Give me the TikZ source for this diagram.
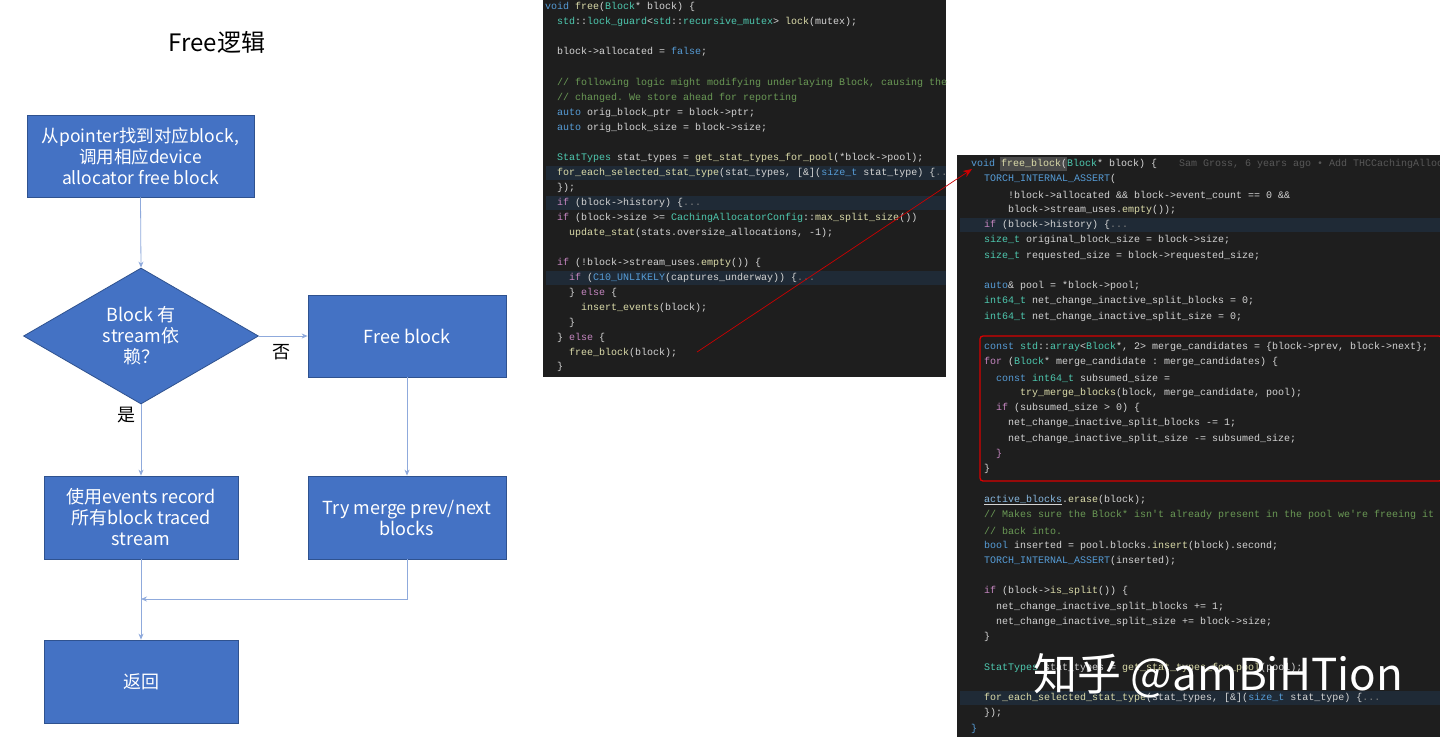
\documentclass[tikz,border=0pt]{standalone}
\usepackage{fontspec}
\setmainfont{Noto Sans CJK SC}
\setmonofont{Liberation Mono}
\usetikzlibrary{shapes.geometric,arrows.meta}
\definecolor{fbl}{HTML}{4472C4}
\definecolor{fbd}{HTML}{2F528F}
\definecolor{conn}{HTML}{8FAADC}
\definecolor{codebg}{HTML}{1E1E1E}
\definecolor{hlbg}{HTML}{1F2A36}
\definecolor{cdef}{HTML}{D4D4D4}
\definecolor{ckw}{HTML}{569CD6}
\definecolor{cty}{HTML}{4EC9B0}
\definecolor{cfn}{HTML}{DCDCAA}
\definecolor{ccm}{HTML}{6A9955}
\definecolor{cpk}{HTML}{C586C0}
\newcommand{\K}[1]{\textcolor{ckw}{#1}}
\newcommand{\Ty}[1]{\textcolor{cty}{#1}}
\newcommand{\Fn}[1]{\textcolor{cfn}{#1}}
\newcommand{\Cm}[1]{\textcolor{ccm}{#1}}
\newcommand{\Pk}[1]{\textcolor{cpk}{#1}}
\newcommand{\cl}[4]{\node[codeline] (#1) at (#2,#3) {#4};}
\begin{document}
\begin{tikzpicture}[x=1pt,y=-1pt,
  flow/.style={draw=fbd,fill=fbl,text=white,font=\fontsize{18}{21}\selectfont,align=center,inner sep=2pt,line width=0.8pt},
  conn/.style={draw=conn,line width=0.8pt,-{Stealth[length=6pt,width=5pt]}},
  codeline/.style={anchor=west,inner sep=0pt,text=cdef,font=\ttfamily\fontsize{10}{12}\selectfont}]
\useasboundingbox (0,0) rectangle (1440,737);
\fill[white] (0,0) rectangle (1440,737);
% flowchart
\node[font=\fontsize{24}{28}\selectfont] (title) at (217,42) {Free逻辑};
\node[flow,minimum width=227pt,minimum height=82pt,font=\fontsize{17.5}{21}\selectfont] (b1) at (140.5,156) {从pointer找到对应block,\\调用相应device\\allocator free block};
\node[flow,diamond,minimum width=235pt,minimum height=136pt,inner sep=0pt] (d) at (141,336) {Block 有\\stream依\\赖？};
\node[flow,minimum width=198pt,minimum height=82pt] (fb) at (407,336) {Free block};
\node[flow,minimum width=194pt,minimum height=83pt] (ev) at (141,517.5) {使用events record\\所有block traced\\stream};
\node[flow,minimum width=198pt,minimum height=83pt] (tm) at (407,517.5) {Try merge prev/next\\blocks};
\node[flow,minimum width=194pt,minimum height=83pt] (ret) at (141,681.5) {返回};
\draw[conn] (b1.south) -- (d.north);
\draw[conn] (d.east) -- (fb.west);
\draw[conn] (d.south) -- (ev.north);
\draw[conn] (fb.south) -- (tm.north);
\draw[conn] (ev.south) -- (ret.north);
\coordinate (mj) at (141,599);
\draw[conn] (tm.south) |- (mj);
\node[font=\fontsize{18}{21}\selectfont] (no) at (281,352) {否};
\node[font=\fontsize{18}{21}\selectfont] (yes) at (126,415) {是};
% panel 1
\fill[codebg] (543,0) rectangle (946,377);
\fill[hlbg] (546,166) rectangle (946,180);
\fill[hlbg] (546,196) rectangle (946,210);
\fill[hlbg] (546,271) rectangle (946,285);
\begin{scope}
\clip (543,0) rectangle (946,377);
\cl{a1}{545}{7}{\K{void} \Fn{free}(\Ty{Block}* block) \{}
\cl{a2}{557}{22}{\Ty{std}::\Ty{lock\_guard}<\Ty{std}::\Ty{recursive\_mutex}> \Fn{lock}(mutex);}
\cl{a3}{557}{52}{block->allocated = \K{false};}
\cl{a4}{557}{83}{\Cm{// following logic might modifying underlaying Block, causing the}}
\cl{a5}{557}{98}{\Cm{// changed. We store ahead for reporting}}
\cl{a6}{557}{113}{\K{auto} orig\_block\_ptr = block->ptr;}
\cl{a7}{557}{128}{\K{auto} orig\_block\_size = block->size;}
\cl{a8}{557}{158}{\Ty{StatTypes} stat\_types = \Fn{get\_stat\_types\_for\_pool}(*block->pool);}
\cl{a9}{557}{173}{\Fn{for\_each\_selected\_stat\_type}(stat\_types, [\&](\K{size\_t} stat\_type) \{\textcolor{gray}{...}}
\cl{a10}{557}{188}{\});}
\cl{a11}{557}{203}{\Pk{if} (block->history) \{\textcolor{gray}{...}}
\cl{a12}{557}{218}{\Pk{if} (block->size >= \Ty{CachingAllocatorConfig}::\Fn{max\_split\_size}())}
\cl{a13}{569}{233}{\Fn{update\_stat}(stats.oversize\_allocations, -1);}
\cl{a14}{557}{263}{\Pk{if} (!block->stream\_uses.\Fn{empty}()) \{}
\cl{a15}{569}{278}{\Pk{if} (\K{C10\_UNLIKELY}(captures\_underway)) \{\textcolor{gray}{...}}
\cl{a16}{569}{293}{\} \Pk{else} \{}
\cl{a17}{581}{308}{\Fn{insert\_events}(block);}
\cl{a18}{569}{323}{\}}
\cl{a19}{557}{338}{\} \Pk{else} \{}
\cl{a20}{569}{353}{\Fn{free\_block}(block);}
\cl{a21}{557}{367}{\}}
\end{scope}
% panel 2
\fill[codebg] (957,155) rectangle (1440,737);
\fill[hlbg] (960,218) rectangle (1440,232);
\fill[hlbg] (960,691) rectangle (1440,705);
\fill[gray!45!codebg] (1000,157) rectangle (1067,171);
\begin{scope}
\clip (957,155) rectangle (1440,737);
\cl{b1}{971}{164}{\K{void} \Fn{free\_block}(\Ty{Block}* block) \{ \quad\ \textcolor{gray!60!codebg}{Sam Gross, 6 years ago • Add THCCachingAllocator}}
\cl{b2}{984}{179}{\K{TORCH\_INTERNAL\_ASSERT}(}
\cl{b3}{1008}{195}{!block->allocated \&\& block->event\_count == 0 \&\&}
\cl{b4}{1008}{210}{block->stream\_uses.\Fn{empty}());}
\cl{b5}{984}{225}{\Pk{if} (block->history) \{\textcolor{gray}{...}}
\cl{b6}{984}{240}{\Ty{size\_t} original\_block\_size = block->size;}
\cl{b7}{984}{256}{\Ty{size\_t} requested\_size = block->requested\_size;}
\cl{b8}{984}{286}{\K{auto}\& pool = *block->pool;}
\cl{b9}{984}{301}{\Ty{int64\_t} net\_change\_inactive\_split\_blocks = 0;}
\cl{b10}{984}{317}{\Ty{int64\_t} net\_change\_inactive\_split\_size = 0;}
\cl{b11}{984}{347}{\K{const} \Ty{std}::\Ty{array}<\Ty{Block}*, 2> merge\_candidates = \{block->prev, block->next\};}
\cl{b12}{984}{362}{\Pk{for} (\Ty{Block}* merge\_candidate : merge\_candidates) \{}
\cl{b13}{996}{378}{\K{const} \Ty{int64\_t} subsumed\_size =}
\cl{b14}{1020}{393}{\Fn{try\_merge\_blocks}(block, merge\_candidate, pool);}
\cl{b15}{996}{408}{\Pk{if} (subsumed\_size > 0) \{}
\cl{b16}{1008}{423}{net\_change\_inactive\_split\_blocks -= 1;}
\cl{b17}{1008}{439}{net\_change\_inactive\_split\_size -= subsumed\_size;}
\cl{b18}{996}{454}{\Pk{\}}}
\cl{b19}{984}{469}{\}}
\cl{b20}{984}{500}{\underline{\textcolor{ckw!70!white}{active\_blocks}}.\Fn{erase}(block);}
\cl{b21}{984}{515}{\Cm{// Makes sure the Block* isn't already present in the pool we're freeing it}}
\cl{b22}{984}{531}{\Cm{// back into.}}
\cl{b23}{984}{546}{\K{bool} inserted = pool.blocks.\Fn{insert}(block).second;}
\cl{b24}{984}{561}{\K{TORCH\_INTERNAL\_ASSERT}(inserted);}
\cl{b25}{984}{591}{\Pk{if} (block->\Fn{is\_split}()) \{}
\cl{b26}{996}{607}{net\_change\_inactive\_split\_blocks += 1;}
\cl{b27}{996}{622}{net\_change\_inactive\_split\_size += block->size;}
\cl{b28}{984}{637}{\}}
\cl{b29}{984}{668}{\Ty{StatTypes} stat\_types = \Fn{get\_stat\_types\_for\_pool}(pool);}
\cl{b30}{984}{698}{\Fn{for\_each\_selected\_stat\_type}(stat\_types, [\&](\K{size\_t} stat\_type) \{\textcolor{gray}{...}}
\cl{b31}{984}{713}{\});}
\cl{b32}{971}{729}{\K{\}}}
\end{scope}
\draw[red!85!black,line width=1.3pt,rounded corners=3pt] (980,336) rectangle (1442,481);
\coordinate (rs) at (697,352);
\coordinate (rt) at (972,169);
\draw[red!80!black,line width=0.7pt,-{Stealth[length=9pt,width=7pt]}] (rs) -- (rt);
\node[text=white,font=\fontsize{44}{50}\selectfont] (wm) at (1218,676) {知乎 @amBiHTion};
\end{tikzpicture}
\end{document}
